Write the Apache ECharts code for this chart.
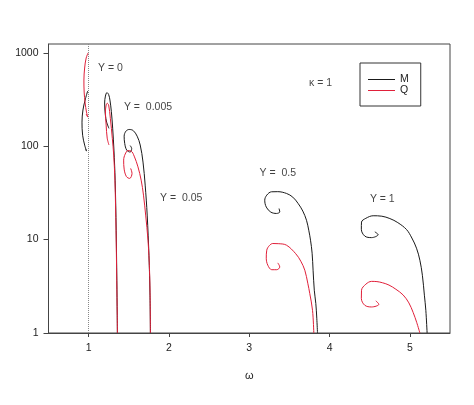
<!DOCTYPE html>
<html>
<head>
<meta charset="utf-8">
<script src="https://cdn.jsdelivr.net/npm/echarts@6/dist/echarts.min.js"></script>
<style>html,body{margin:0;padding:0;background:#fff}#c{width:474px;height:405px}</style>
</head>
<body>
<div id="c"></div>
<script>
// ---- data (ω, value) ----
const omegaTicks = [1, 2, 3, 4, 5];
const yTicks = [1, 10, 100, 1000];

const M_Y0 = [[0.988,390],[0.956,312],[0.929,244],[0.917,181],[0.925,131],[0.950,103],[0.973,88.6],[0.965,93]];
const Q_Y0 = [[0.994,1000],[0.969,879],[0.950,687],[0.941,511],[0.944,380],[0.956,290],[0.973,232],[0.988,205],[0.969,221]];

const M_Y0005 = [[1.253,155],[1.224,181],[1.208,216],[1.199,290],[1.209,344],[1.228,375],[1.249,357],[1.265,312],[1.283,234],[1.299,156],[1.315,90.8],[1.330,43.3],[1.343,12.6],[1.351,3.67],[1.356,1.55],[1.358,1]];
const Q_Y0005 = [[1.253,103],[1.231,122],[1.218,168],[1.209,232],[1.216,269],[1.231,288],[1.249,276],[1.270,199],[1.295,121],[1.312,80.3],[1.327,43.3],[1.341,12.6],[1.350,3.67],[1.356,1.55],[1.358,1]];

const M_Y005 = [[1.517,101.5],[1.536,94.3],[1.517,86.5],[1.474,90.8],[1.449,107],[1.442,128],[1.465,145],[1.505,151],[1.555,147],[1.604,128],[1.642,103],[1.677,67.6],[1.704,38.3],[1.729,18.3],[1.751,6.8],[1.764,2.54],[1.769,1]];
const Q_Y005 = [[1.523,57.8],[1.540,51.1],[1.511,45.2],[1.471,47.2],[1.442,56.8],[1.436,71],[1.455,82.3],[1.490,89.7],[1.530,88.6],[1.567,78.3],[1.614,60.1],[1.654,43.3],[1.683,29.9],[1.710,18.3],[1.739,9.85],[1.758,4.70],[1.766,2.24],[1.769,1]];

const M_Y05 = [[3.371,21.5],[3.380,19.8],[3.339,19.05],[3.268,19.7],[3.212,22.3],[3.193,26.4],[3.218,29.9],[3.277,32.5],[3.355,32.6],[3.464,31.2],[3.542,28.5],[3.608,24.4],[3.667,20.2],[3.713,16.1],[3.741,12.6],[3.763,9.85],[3.783,7.15],[3.795,4.70],[3.810,2.87],[3.829,2.07],[3.841,1.44],[3.850,1]];
const Q_Y05 = [[3.355,5.63],[3.380,5.10],[3.343,4.76],[3.280,4.76],[3.231,5.32],[3.212,6.32],[3.218,7.70],[3.249,8.60],[3.293,9.08],[3.368,9.04],[3.464,8.71],[3.579,7.06],[3.642,5.87],[3.692,4.70],[3.729,3.41],[3.754,2.64],[3.788,1.75],[3.804,1]];

const M_Y1 = [[4.564,12.1],[4.605,11.3],[4.523,10.5],[4.439,10.9],[4.396,12.9],[4.398,15.4],[4.452,16.9],[4.543,18.0],[4.651,17.8],[4.751,16.8],[4.850,15.2],[4.959,12.8],[5.025,10.4],[5.083,8.09],[5.125,6.01],[5.156,4.15],[5.181,2.54],[5.199,1.75],[5.215,1]];
const Q_Y1 = [[4.576,2.21],[4.614,2.03],[4.523,1.90],[4.439,1.98],[4.396,2.35],[4.398,2.87],[4.452,3.33],[4.523,3.57],[4.590,3.55],[4.660,3.45],[4.740,3.26],[4.826,2.94],[4.917,2.55],[4.988,2.10],[5.041,1.66],[5.085,1.30],[5.125,1]];

const noteTexts = ['Y = 0', 'Y =  0.005', 'Y =  0.05', 'Y =  0.5', 'Y = 1', 'κ = 1'];
const noteOmega = [1.272, 1.739, 2.153, 3.355, 4.657, 3.889];
const noteValue = [692, 264, 27.8, 51.5, 27.1, 471];

// ---- chart ----
const FONT = '"Liberation Sans", Arial, sans-serif';
const BLACK = '#1a1a1a', RED = '#e0203a', AX = '#444';

function curve(name, data, color) {
  return { type: 'line', name: name, data: data, smooth: 0.35, symbol: 'none', showSymbol: false,
           lineStyle: { color: color, width: 1 }, itemStyle: { color: color }, silent: true, z: 3 };
}

const mList = [M_Y0, M_Y0005, M_Y005, M_Y05, M_Y1];
const qList = [Q_Y0, Q_Y0005, Q_Y005, Q_Y05, Q_Y1];
const series = [];
mList.forEach(d => series.push(curve('M', d, BLACK)));
qList.forEach(d => series.push(curve('Q', d, RED)));
series[0].markLine = { silent: true, symbol: ['none', 'none'], label: { show: false },
  lineStyle: { type: 'dotted', color: '#888', width: 1 }, data: [{ xAxis: 1 }], animation: false };
series.push({
  type: 'scatter', name: 'notes', silent: true, symbolSize: 1, itemStyle: { color: 'rgba(0,0,0,0)' },
  data: noteTexts.map((t, i) => [noteOmega[i], noteValue[i], t]),
  label: { show: true, position: 'inside', formatter: p => p.data[2], fontSize: 10.5, color: '#111', fontFamily: FONT },
  z: 5
});

const chart = echarts.init(document.getElementById('c'), null, { renderer: 'canvas' });
chart.setOption({
  animation: false,
  backgroundColor: '#fff',
  grid: { left: 48.5, right: 24, top: 44, bottom: 72, show: true, borderColor: AX, borderWidth: 1, backgroundColor: 'transparent' },
  legend: {
    data: ['M', 'Q'], orient: 'vertical', left: 360, top: 63, padding: [11, 12, 10, 8],
    itemGap: 0, itemWidth: 27, itemHeight: 1, icon: 'rect', selectedMode: false,
    borderColor: '#333', borderWidth: 1,
    textStyle: { fontSize: 10.5, lineHeight: 11, color: '#222', fontFamily: FONT }
  },
  xAxis: {
    type: 'value', min: 0.5, max: 5.5, name: 'ω', nameLocation: 'middle', nameGap: 37,
    nameTextStyle: { fontSize: 11, color: '#222', fontFamily: FONT },
    axisLine: { show: true, onZero: false, lineStyle: { color: AX } },
    axisTick: { show: true, length: 4, customValues: omegaTicks, lineStyle: { color: AX } },
    axisLabel: { customValues: omegaTicks, margin: 10, fontSize: 10.5, color: '#222', fontFamily: FONT },
    splitLine: { show: false }
  },
  yAxis: {
    type: 'log', logBase: 10, min: 1, max: 1242,
    axisLine: { show: true, lineStyle: { color: AX } },
    axisTick: { show: true, length: 5, customValues: yTicks, lineStyle: { color: AX } },
    axisLabel: { customValues: yTicks, margin: 10, fontSize: 10.5, color: '#222', fontFamily: FONT,
      formatter: v => { const l = Math.log10(v); return Math.abs(l - Math.round(l)) < 1e-6 ? String(Math.round(v)) : ''; } },
    splitLine: { show: false }
  },
  series: series
});
</script>
</body>
</html>
